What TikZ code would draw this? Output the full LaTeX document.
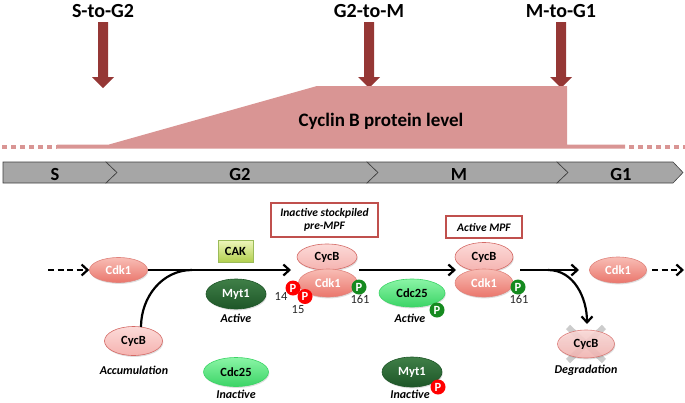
\documentclass[tikz,border=0pt]{standalone}
\usepackage{fontspec}
\setmainfont{Carlito}
\usetikzlibrary{arrows.meta,shapes.geometric,shadows}
\definecolor{darkred}{HTML}{953735}
\definecolor{cycpink}{HTML}{D99594}
\definecolor{phasegrey}{HTML}{A6A6A6}
\definecolor{phaseedge}{HTML}{3F3F3F}
\definecolor{boxred}{HTML}{C0504D}
\definecolor{cdktop}{HTML}{F8BDB5}
\definecolor{cdkbot}{HTML}{EA766C}
\definecolor{cdkedge}{HTML}{E0837C}
\definecolor{cyctop}{HTML}{FCDAD8}
\definecolor{cycbot}{HTML}{F5B3B0}
\definecolor{cycedge}{HTML}{D46A66}
\definecolor{myttop}{HTML}{3F7F47}
\definecolor{mytbot}{HTML}{1E5628}
\definecolor{cdctop}{HTML}{8AF5A6}
\definecolor{cdcbot}{HTML}{3CD466}
\definecolor{caktop}{HTML}{EEF6BC}
\definecolor{cakbot}{HTML}{B2CF4E}
\definecolor{cakedge}{HTML}{9BBB59}
\definecolor{pgreen}{HTML}{158A1F}
\definecolor{numgrey}{HTML}{262626}
\tikzset{
  bigtext/.style={font=\fontsize{20}{22}\selectfont\bfseries, text=black, inner sep=0pt},
  cyctext/.style={font=\fontsize{19}{21}\selectfont\bfseries, text=black, inner sep=0pt},
  phaselab/.style={font=\fontsize{18.5}{20}\selectfont\bfseries, text=black, inner sep=0pt},
  topar/.style={fill=darkred, draw=none},
  phasebox/.style={fill=phasegrey, draw=phaseedge, line width=0.6pt, line join=miter},
  blob/.style={ellipse, inner sep=0pt, font=\fontsize{12.5}{14}\selectfont\bfseries,
    drop shadow={shadow xshift=0.8pt, shadow yshift=-1.4pt, opacity=0.25}},
  cdk/.style={blob, minimum width=58pt, minimum height=25pt, top color=cdktop, bottom color=cdkbot, draw=cdkedge, line width=0.6pt, text=white},
  cycb/.style={blob, minimum width=58pt, minimum height=29pt, top color=cyctop, bottom color=cycbot, draw=cycedge, line width=0.6pt, text=black},
  myt/.style={blob, minimum width=60pt, minimum height=30pt, top color=myttop, bottom color=mytbot, draw=mytbot, line width=0.6pt, text=white},
  cdc/.style={blob, minimum width=65pt, minimum height=29pt, top color=cdctop, bottom color=cdcbot, draw=cdcbot, line width=0.6pt, text=black},
  cakbox/.style={rectangle, minimum width=35pt, minimum height=22pt, inner sep=0pt, top color=caktop, bottom color=cakbot, draw=cakedge, line width=0.6pt, font=\fontsize{12.5}{14}\selectfont\bfseries,
    drop shadow={shadow xshift=0.8pt, shadow yshift=-1.2pt, opacity=0.25}},
  statebox/.style={rectangle, draw=boxred, line width=1.6pt, fill=white, inner sep=0pt, align=center, font=\fontsize{11.5}{13.5}\selectfont\bfseries\itshape},
  lab/.style={font=\fontsize{12}{14}\selectfont\bfseries\itshape, text=black, inner sep=0pt},
  num/.style={font=\fontsize{12.5}{13}\selectfont, text=numgrey, inner sep=0pt},
  pred/.style={circle, fill=red, minimum size=15pt, inner sep=0pt, text=white, font=\fontsize{12.5}{13}\selectfont\bfseries},
  pgrn/.style={circle, fill=pgreen, minimum size=15pt, inner sep=0pt, text=white, font=\fontsize{12.5}{13}\selectfont\bfseries},
  arr/.style={line width=2.2pt, -{Straight Barb[length=6pt,width=11pt,line width=2.2pt]}},
  darr/.style={arr, dash pattern=on 6pt off 3.5pt},
}
\begin{document}
\begin{tikzpicture}[x=1pt,y=-1pt]
\useasboundingbox (0,0) rectangle (685,402);

% ---------- top: transitions ----------
\foreach \xx/\nm/\tx in {103/st/S-to-G2, 369/gm/G2-to-M, 561/mg/M-to-G1}{
  \node[bigtext] (lab\nm) at (\xx,11) {\tx};
  \fill[topar] (\xx-5,22) -- (\xx+5,22) -- (\xx+5,77) -- (\xx+11,77) -- (\xx,88) -- (\xx-11,77) -- (\xx-5,77) -- cycle;
}

% ---------- cyclin B level ----------
\fill[cycpink] (57,144.5) -- (109,144.5) -- (317,86) -- (567,86) -- (567,144.5) -- (625,144.5) -- (625,148.5) -- (57,148.5) -- cycle;
\draw[cycpink, line width=4pt, dash pattern=on 5pt off 4pt] (2,146.5) -- (57,146.5);
\draw[cycpink, line width=4pt, dash pattern=on 5pt off 4pt] (629,146.5) -- (685,146.5);
\node[cyctext] (cyclab) at (381,121) {Cyclin B protein level};

% ---------- phase bar ----------
\path[phasebox] (3,162) -- (106,162) -- (117,172.5) -- (106,183) -- (3,183) -- cycle;
\path[phasebox] (106,162) -- (367,162) -- (378,172.5) -- (367,183) -- (106,183) -- (117,172.5) -- cycle;
\path[phasebox] (367,162) -- (557,162) -- (568,172.5) -- (557,183) -- (367,183) -- (378,172.5) -- cycle;
\path[phasebox] (557,162) -- (673,162) -- (683,172.5) -- (673,183) -- (557,183) -- (568,172.5) -- cycle;
\node[phaselab] (phS) at (55,174) {S};
\node[phaselab] (phG2) at (240,174) {G2};
\node[phaselab] (phM) at (459,174) {M};
\node[phaselab] (phG1) at (621,174) {G1};

% ---------- bottom: pathway ----------
\node[cdk] (cdkL) at (118.5,270) {Cdk1};
\node[cycb] (cycbA) at (133.5,341) {CycB};
\node[lab] (accum) at (134,370) {Accumulation};
\node[cakbox] (cak) at (235.5,251) {CAK};
\node[myt] (mytA) at (236,294) {Myt1};
\node[lab] (actA) at (236,318) {Active};
\node[cdc] (cdcA) at (236,372) {Cdc25};
\node[lab] (inactA) at (236,394) {Inactive};

% pre-MPF complex
\node[statebox, minimum width=107pt, minimum height=34pt] (prebox) at (324.5,220) {Inactive stockpiled\\pre-MPF};
\node[cycb, minimum width=60pt, minimum height=26pt] (cycb1) at (327,257) {CycB};
\node[cdk, minimum width=59pt, minimum height=28pt] (cdk1) at (328,283) {Cdk1};
\node[pred] (p14) at (293,288) {P};
\node[pred] (p15) at (305,296.5) {P};
\node[num] (n14) at (281,296) {14};
\node[num] (n15) at (298,310) {15};
\node[pgrn] (p161a) at (359,287) {P};
\node[num] (n161a) at (360,299.5) {161};

% active Cdc25 / inactive Myt1
\node[cdc, minimum width=66pt, minimum height=28pt] (cdcB) at (412,293) {Cdc25};
\node[pgrn] (pcdc) at (437,310) {P};
\node[lab] (actB) at (410,318) {Active};
\node[myt] (mytB) at (412,372) {Myt1};
\node[lab] (inactB) at (410,394) {Inactive};
\node[pred] (pmyt) at (438,387) {P};

% active MPF
\node[statebox, minimum width=76pt, minimum height=22pt] (mpfbox) at (484,227) {Active MPF};
\node[cycb] (cycb2) at (484,257) {CycB};
\node[cdk, minimum height=28pt] (cdk2) at (484,283) {Cdk1};
\node[pgrn] (p161b) at (518,287) {P};
\node[num] (n161b) at (519,299.5) {161};

% degradation
\draw[black!20, line width=6pt] (568,327) -- (604,361);
\draw[black!20, line width=6pt] (604,327) -- (568,361);
\node[cycb, minimum width=57pt, minimum height=28pt, opacity=0.85, text opacity=1] (cycbD) at (586,344) {CycB};
\node[lab] (degr) at (586,370) {Degradation};
\node[cdk, minimum width=57pt, minimum height=26pt] (cdkR) at (618,270) {Cdk1};

% connectors
\coordinate (dL) at (48,270);
\coordinate (j1) at (192,270);
\coordinate (cs) at (141,327);
\coordinate (e1) at (291,270);
\coordinate (s2) at (359,270);
\coordinate (e2) at (456,270);
\coordinate (s3) at (520,270);
\coordinate (e3) at (579,270);
\coordinate (b3) at (548,270);
\coordinate (dt) at (587,324);
\coordinate (dRs) at (652,270);
\coordinate (dR) at (684,270);

\draw[darr] (dL) -- (cdkL.west);
\draw[arr] (cdkL.east) -- (e1);
\draw[line width=2.2pt] (cs) to[out=90,in=180] (j1);
\draw[arr] (s2) -- (e2);
\draw[arr] (s3) -- (e3);
\draw[arr] (b3) to[out=0,in=90] (dt);
\draw[darr] (dRs) -- (dR);
\end{tikzpicture}
\end{document}
